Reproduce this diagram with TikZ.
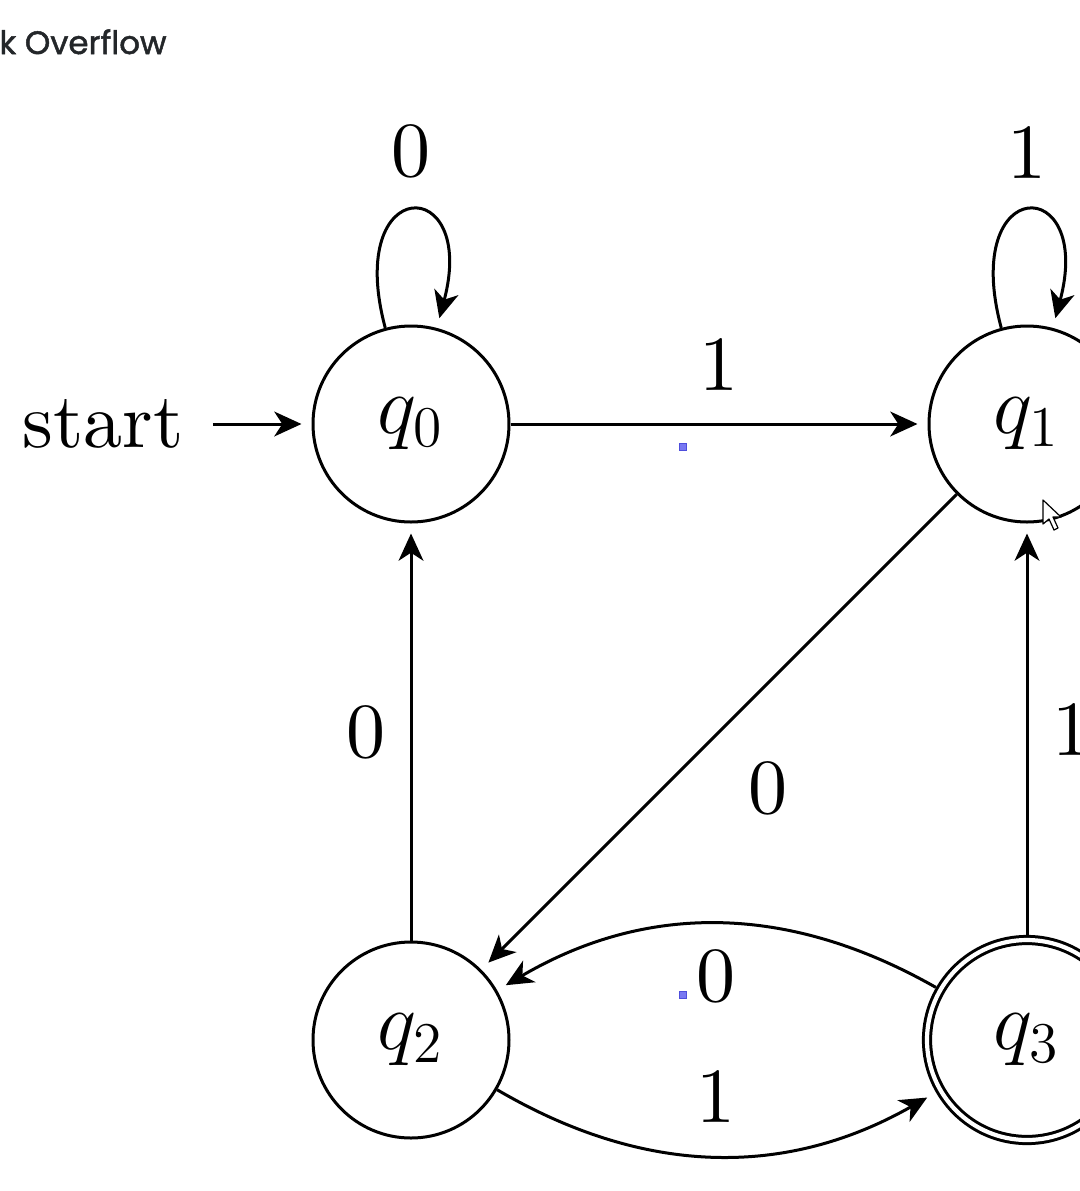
\documentclass[tikz,border=0pt]{standalone}
\usepackage{fontspec}
\setmainfont{lmroman10-regular.otf}
\newfontfamily\hdrfont{Poppins}[FakeBold=1.5]
\usetikzlibrary{arrows.meta}
\definecolor{hdrgray}{HTML}{232629}
\definecolor{dotfill}{HTML}{7878F2}
\definecolor{dotline}{HTML}{4E4EDC}
\begin{document}
\begin{tikzpicture}[x=0.25pt,y=-0.25pt, line width=0.75pt,
  font=\fontsize{19.5}{23}\selectfont,
  state/.style={circle,draw,minimum size=49pt,inner sep=0pt},
  finalstate/.style={circle,draw,double,double distance=1.05pt,minimum size=50pt,inner sep=0pt,outer sep=1.3pt},
  arr/.style={-{Stealth[length=6.8pt,width=6.2pt,inset=2pt]}, shorten >=2.5pt},
  selfloop/.style={arr, looseness=8},
  lbl/.style={inner sep=8pt},
  sidelbl/.style={inner sep=6pt},
  diaglbl/.style={inner sep=7pt},
  bendlbl/.style={inner sep=6pt},
  marker/.style={draw=dotline, fill=dotfill, minimum size=1.7pt, inner sep=0pt, line width=0.2pt}]
\useasboundingbox (0,0) rectangle (1080,1191);

% header fragment
\node[font=\hdrfont\fontsize{8.1}{10}\selectfont, text=hdrgray, anchor=base west, inner sep=0pt] (hdr) at (-2,54) {k Overflow};

% states
\node[state] (q0) at (411,424) {$q_0$};
\node[state] (q1) at (1027,424) {$q_1$};
\node[state] (q2) at (411,1040) {$q_2$};
\node[finalstate] (q3) at (1027,1040) {$q_3$};
\node[inner xsep=7pt, inner ysep=0pt] (start) at (103,424) {start};

% transitions
\draw[arr] (start) -- (q0);
\draw[arr] (q0) -- node[lbl, midway, above] {1} (q1);
\draw[selfloop] (q0) to[out=105,in=75] node[lbl, midway, above] {0} (q0);
\draw[selfloop] (q1) to[out=105,in=75] node[lbl, midway, above] {1} (q1);
\draw[arr] (q1) -- node[diaglbl, midway, below right] {0} (q2);
\draw[arr] (q2) -- node[sidelbl, midway, left] {0} (q0);
\draw[arr] (q3) -- node[sidelbl, midway, right] {1} (q1);
\draw[arr] (q3) to[bend right=30] node[bendlbl, midway, below] {0} (q2);
\draw[arr] (q2) to[bend right=30] node[lbl, midway, above] {1} (q3);

% screenshot artefacts
\node[marker] (m1) at (683,447) {};
\node[marker] (m2) at (683,995) {};
\draw[fill=white, line width=0.3pt, line join=round] (1043,500) -- (1043,524) -- (1049,519) -- (1054,530) -- (1058,528) -- (1053,517) -- (1061,517) -- cycle;
\end{tikzpicture}
\end{document}
